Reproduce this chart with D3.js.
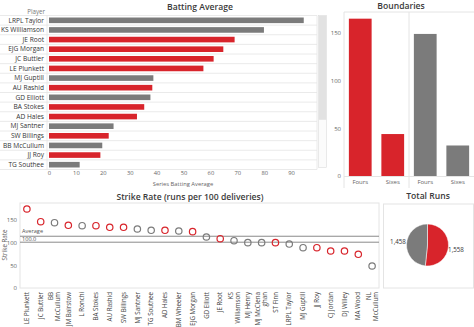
<!DOCTYPE html>
<html><head><meta charset="utf-8">
<script src="https://cdn.jsdelivr.net/npm/d3@7"></script>
<style>
body{margin:0;background:#fff;}
svg{font-family:"Open Sans","Noto Sans",sans-serif;}
</style></head>
<body>
<svg id="c" width="474" height="327"></svg>
<script>
// ---- data ----
const batPlayers = ["LRPL Taylor","KS Williamson","JE Root","EJG Morgan","JC Buttler","LE Plunkett","MJ Guptill","AU Rashid","GD Elliott","BA Stokes","AD Hales","MJ Santner","SW Billings","BB McCullum","JJ Roy","TG Southee"];
const batAvg = [94.7,79.9,69.0,64.8,61.2,57.4,38.8,38.4,37.7,35.4,32.7,24.0,22.2,19.8,19.1,11.4];
const batTeam = ["NZ","NZ","ENG","ENG","ENG","ENG","NZ","ENG","NZ","ENG","ENG","NZ","ENG","NZ","ENG","NZ"];
const batTicks = [0,10,20,30,40,50,60,70,80,90];

const bndCats = ["ENG Fours","ENG Sixes","NZ Fours","NZ Sixes"];
const bndLabels = ["Fours","Sixes","Fours","Sixes"];
const bndTeam = ["ENG","ENG","NZ","NZ"];
const bndValues = [165,44,149,32];
const bndTicks = [0,50,100,150];

const srPlayers = ["LE Plunkett","JC Buttler","BB McCullum","JM Bairstow","L Ronchi","BA Stokes","AU Rashid","SW Billings","MJ Santner","TG Southee","AD Hales","BM Wheeler","EJG Morgan","GD Elliott","JE Root","KS Williamson","MJ Henry","MJ McClenaghan","ST Finn","LRPL Taylor","MJ Guptill","JJ Roy","CJ Jordan","DJ Willey","MA Wood","NL McCullum"];
const srLabelLines = [["LE Plunkett"],["JC Buttler"],["BB","McCullum"],["JM Bairstow"],["L Ronchi"],["BA Stokes"],["AU Rashid"],["SW Billings"],["MJ Santner"],["TG Southee"],["AD Hales"],["BM Wheeler"],["EJG Morgan"],["GD Elliott"],["JE Root"],["KS","Williamson"],["MJ Henry"],["MJ McClena","ghan"],["ST Finn"],["LRPL Taylor"],["MJ Guptill"],["JJ Roy"],["CJ Jordan"],["DJ Willey"],["MA Wood"],["NL","McCullum"]];
const srValues = [172.5,144.8,142.6,136.9,136.0,136.0,132.5,132.5,128.8,126.0,126.0,124.5,123.0,111.4,107.7,103.3,99.0,99.0,99.0,96.0,88.0,88.0,80.8,80.8,73.6,48.0];
const srTeam = ["ENG","ENG","NZ","ENG","NZ","ENG","ENG","ENG","NZ","NZ","ENG","NZ","ENG","NZ","ENG","NZ","NZ","NZ","ENG","NZ","NZ","ENG","ENG","ENG","ENG","NZ"];
const srTicks = [0,50,100,150];
const srAverage = 113.0;
const srRef = 100.0;

const runTeams = ["ENG","NZ"];
const runValues = [1558,1458];

// ---- style ----
const RED = "#d8242b", GREY = "#7b7b7b";
const col = t => t === "ENG" ? RED : GREY;
const svg = d3.select("#c");
const frame = "#e4e4e4";

function title(x, y, s){
  svg.append("text").attr("x",x).attr("y",y).attr("text-anchor","middle")
    .attr("font-size",8.6).attr("font-weight",600).attr("fill","#3a3a3a").text(s);
}

// ================= Batting Average =================
title(200, 9.5, "Batting Average");
const bx = d3.scaleLinear().domain([0,100]).range([49, 318]);
const by = d3.scaleBand().domain(batPlayers).range([15.5, 169.5]);
const rowH = by.step();
const g1 = svg.append("g");
batPlayers.forEach(p=>{
  const y0 = by(p);
  g1.append("line").attr("x1",0).attr("x2",317).attr("y1",y0).attr("y2",y0).attr("stroke",frame).attr("stroke-width",0.8);
});
g1.append("line").attr("x1",0).attr("x2",317).attr("y1",169.5).attr("y2",169.5).attr("stroke",frame).attr("stroke-width",0.8);
g1.append("line").attr("x1",47).attr("x2",47).attr("y1",15.5).attr("y2",169.5).attr("stroke",frame).attr("stroke-width",0.8);
g1.append("line").attr("x1",317).attr("x2",317).attr("y1",15.5).attr("y2",169.5).attr("stroke",frame).attr("stroke-width",0.8);
g1.selectAll("rect.b").data(batPlayers).join("rect").attr("class","b")
  .attr("x", bx(0)).attr("width",(d,i)=>bx(batAvg[i])-bx(0))
  .attr("y",d=>by(d) + (rowH-5.6)/2).attr("height",5.6)
  .attr("fill",(d,i)=>col(batTeam[i]));
g1.selectAll("text.p").data(batPlayers).join("text").attr("class","p")
  .attr("x",44).attr("y",d=>by(d) + rowH/2 + 2.3)
  .attr("text-anchor","end").attr("font-size",6.6).attr("fill","#333").text(d=>d);
g1.append("text").attr("x",45).attr("y",13.5).attr("text-anchor","end").attr("font-size",6.2).attr("fill","#777").text("Player");
const ax1 = d3.axisBottom(bx).tickValues(batTicks).tickSize(0).tickPadding(1.5);
const a1 = svg.append("g").attr("transform","translate(0,169.5)").call(ax1);
a1.select(".domain").remove();
a1.selectAll("text").attr("font-size",5.8).attr("fill","#666").attr("font-family","Open Sans, sans-serif");
svg.append("text").attr("x",183).attr("y",185.5).attr("text-anchor","middle").attr("font-size",5.8).attr("fill","#666").text("Series Batting Average");
svg.append("rect").attr("x",318.5).attr("y",15.5).attr("width",8).attr("height",152).attr("fill","#fbfbfb").attr("stroke","#dcdcdc").attr("stroke-width",0.6);
svg.append("rect").attr("x",318.8).attr("y",15.8).attr("width",7.4).attr("height",104).attr("fill","#e2e2e2");

// ================= Boundaries =================
title(401, 8.5, "Boundaries");
const kx = d3.scaleBand().domain(bndCats).range([344, 474]).paddingInner(0.3).paddingOuter(0.15);
const ky = d3.scaleLinear().domain([0,172]).range([176, 12]);
svg.append("line").attr("x1",344).attr("x2",474).attr("y1",12).attr("y2",12).attr("stroke",frame);
svg.append("line").attr("x1",344).attr("x2",344).attr("y1",12).attr("y2",188).attr("stroke",frame);
svg.append("line").attr("x1",409).attr("x2",409).attr("y1",12).attr("y2",188).attr("stroke",frame);
svg.append("line").attr("x1",344).attr("x2",474).attr("y1",176.5).attr("y2",176.5).attr("stroke",frame);
svg.selectAll("rect.k").data(bndCats).join("rect").attr("class","k")
  .attr("x",d=>kx(d)).attr("width",kx.bandwidth())
  .attr("y",(d,i)=>ky(bndValues[i])).attr("height",(d,i)=>ky(0)-ky(bndValues[i]))
  .attr("fill",(d,i)=>col(bndTeam[i]));
const ay2 = d3.axisLeft(ky).tickValues(bndTicks).tickSize(0).tickPadding(3);
const a2 = svg.append("g").attr("transform","translate(344,0)").call(ay2);
a2.select(".domain").remove();
a2.selectAll("text").attr("font-size",6).attr("fill","#666").attr("font-family","Open Sans, sans-serif");
svg.selectAll("text.kl").data(bndCats).join("text").attr("class","kl")
  .attr("x",d=>kx(d)+kx.bandwidth()/2).attr("y",184).attr("text-anchor","middle")
  .attr("font-size",6).attr("fill","#666").text((d,i)=>bndLabels[i]);

// ================= Strike Rate =================
title(190, 200, "Strike Rate (runs per 100 deliveries)");
const sx = d3.scaleBand().domain(srPlayers).range([20, 379]);
const sy = d3.scaleLinear().domain([0,185.6]).range([288, 203]);
svg.append("rect").attr("x",20).attr("y",203).attr("width",359).attr("height",85).attr("fill","none").attr("stroke",frame);
const ay3 = d3.axisLeft(sy).tickValues(srTicks).tickSize(0).tickPadding(3);
const a3 = svg.append("g").attr("transform","translate(20,0)").call(ay3);
a3.select(".domain").remove();
a3.selectAll("text").attr("font-size",6).attr("fill","#666").attr("font-family","Open Sans, sans-serif");
svg.append("text").attr("transform","translate(6.5,245) rotate(-90)").attr("text-anchor","middle")
  .attr("font-size",6.2).attr("fill","#666").text("Strike Rate");
[srAverage, srRef].forEach(v=>{
  svg.append("line").attr("x1",20).attr("x2",379).attr("y1",sy(v)).attr("y2",sy(v)).attr("stroke","#8a8a8a").attr("stroke-width",1);
});
svg.append("text").attr("x",22).attr("y",sy(srAverage)-2.8).attr("font-size",5.6).attr("fill","#555").text("Average");
svg.append("text").attr("x",22).attr("y",sy(srRef)-1).attr("font-size",5.6).attr("fill","#555").text("100.0");
svg.selectAll("circle.s").data(srPlayers).join("circle").attr("class","s")
  .attr("cx",d=>sx(d)+sx.bandwidth()/2).attr("cy",(d,i)=>sy(srValues[i])).attr("r",3.2)
  .attr("fill","none").attr("stroke",(d,i)=>col(srTeam[i])).attr("stroke-width",1.2);
srPlayers.forEach((p,i)=>{
  const lines = srLabelLines[i];
  const cx = sx(p)+sx.bandwidth()/2;
  const t = svg.append("text").attr("transform",`translate(${cx},292) rotate(-90)`)
    .attr("text-anchor","end").attr("font-size",6.2).attr("fill","#444");
  const n = lines.length;
  lines.forEach((l,j)=>{
    t.append("tspan").attr("x",0).attr("y", 2.2 + (j-(n-1)/2)*6.8).text(l);
  });
});

// ================= Total Runs =================
title(428, 199, "Total Runs");
svg.append("rect").attr("x",383.5).attr("y",204).attr("width",90).attr("height",84).attr("fill","none").attr("stroke",frame);
const pie = d3.pie().sort(null).value(d=>d)(runValues);
const arc = d3.arc().innerRadius(0).outerRadius(21);
const pg = svg.append("g").attr("transform","translate(427.5,245)");
pg.selectAll("path").data(pie).join("path").attr("d",arc)
  .attr("fill",(d,i)=>col(runTeams[i])).attr("stroke","#fff").attr("stroke-width",0.5);
svg.append("text").attr("x",456).attr("y",252).attr("text-anchor","middle").attr("font-size",6.2).attr("fill","#333").text(d3.format(",")(runValues[0]));
svg.append("text").attr("x",398).attr("y",243.5).attr("text-anchor","middle").attr("font-size",6.2).attr("fill","#333").text(d3.format(",")(runValues[1]));
</script>
</body></html>
